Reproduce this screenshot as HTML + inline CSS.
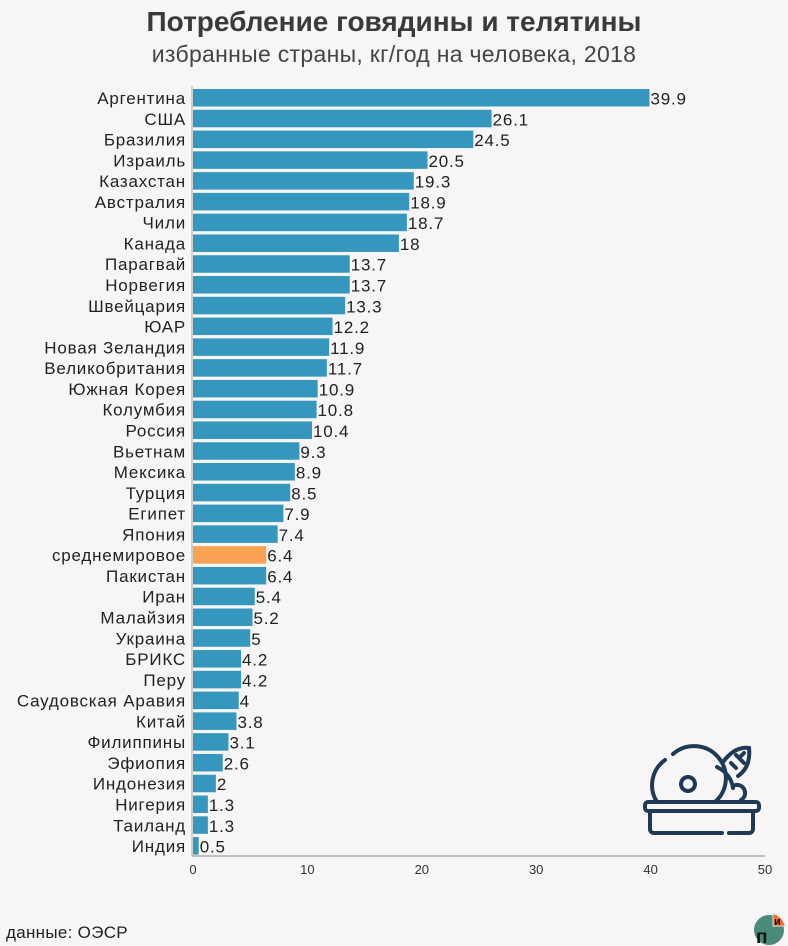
<!DOCTYPE html>
<html><head><meta charset="utf-8"><style>
body{margin:0;background:#f7f5f6;font-family:"Liberation Sans",sans-serif;}
#wrap{position:relative;width:788px;height:946px;overflow:hidden;background:#f7f5f6;}
.t{position:absolute;left:0;width:788px;text-align:center;color:#333;}
</style></head><body>
<div id="wrap">
<div class="t" style="top:6px;font-size:28px;font-weight:bold;color:#3a3a3a;">Потребление говядины и телятины</div>
<div class="t" style="top:41px;font-size:23px;letter-spacing:0.3px;color:#444;">избранные страны, кг/год на человека, 2018</div>
<svg id="c" width="788" height="946" style="position:absolute;left:0;top:0"></svg>
<div style="position:absolute;left:6px;top:923px;font-size:17px;letter-spacing:0.3px;color:#222;">данные: ОЭСР</div>
</div>
<script>
const categories=["Аргентина","США","Бразилия","Израиль","Казахстан","Австралия","Чили","Канада","Парагвай","Норвегия","Швейцария","ЮАР","Новая Зеландия","Великобритания","Южная Корея","Колумбия","Россия","Вьетнам","Мексика","Турция","Египет","Япония","среднемировое","Пакистан","Иран","Малайзия","Украина","БРИКС","Перу","Саудовская Аравия","Китай","Филиппины","Эфиопия","Индонезия","Нигерия","Таиланд","Индия"];
const values=[39.9,26.1,24.5,20.5,19.3,18.9,18.7,18,13.7,13.7,13.3,12.2,11.9,11.7,10.9,10.8,10.4,9.3,8.9,8.5,7.9,7.4,6.4,6.4,5.4,5.2,5,4.2,4.2,4,3.8,3.1,2.6,2,1.3,1.3,0.5];
const labels=["39.9","26.1","24.5","20.5","19.3","18.9","18.7","18","13.7","13.7","13.3","12.2","11.9","11.7","10.9","10.8","10.4","9.3","8.9","8.5","7.9","7.4","6.4","6.4","5.4","5.2","5","4.2","4.2","4","3.8","3.1","2.6","2","1.3","1.3","0.5"];
const ticks=[0,10,20,30,40,50];
const NS="http://www.w3.org/2000/svg";
const svg=document.getElementById('c');
const x=v=>193+v*11.44;
const y=i=>89+i*20.78;
function mk(t,a){const e=document.createElementNS(NS,t);for(const k in a)e.setAttribute(k,a[k]);svg.appendChild(e);return e;}
categories.forEach((c,i)=>{
 const r=mk('rect',{x:x(0),y:y(i),width:x(values[i])-x(0),height:17.5,fill:c==="среднемировое"?"#f9a352":"#3597bd"});
 
 
 const l=mk('text',{x:186,y:y(i)+15,'text-anchor':'end','font-size':17,'letter-spacing':0.8,fill:'#222'});l.textContent=c;
 
 
 const v=mk('text',{x:x(values[i])+1,y:y(i)+15.5,'font-size':17,'letter-spacing':0.8,fill:'#222'});v.textContent=labels[i];
 
 
});
const ax=mk('line',{x1:192,y1:86,x2:192,y2:856,stroke:'#aaa','stroke-width':1});


const bx=mk('line',{x1:192,y1:856,x2:765,y2:856,stroke:'#888','stroke-width':1});


ticks.forEach(t=>{const e=mk('text',{x:x(t),y:874,'text-anchor':'middle','font-size':13,fill:'#333'});e.textContent=t;
 
 });
</script>
<svg style="position:absolute;left:643px;top:742px" width="120" height="95" viewBox="0 0 120 95" fill="none" stroke="#1e3a56" stroke-width="4" stroke-linecap="round">
<path d="M14 60 A31 31 0 0 1 22 18"/><path d="M30 12 A31 31 0 0 1 72 60"/><circle cx="45" cy="42" r="7"/>
<path d="M80 20 Q92 4 106 6 Q108 25 95 34"/><path d="M96 16 l5 -5 M93 13 l8 8 M88 21 l5 5"/>
<path d="M74 25 Q88 32 90 46"/>
<path d="M90 44 A8 8 0 1 1 98 58"/>
<rect x="2" y="60" width="114" height="9" rx="3"/><path d="M7 69 v18 a4 4 0 0 0 4 4 h68 M86 91 h20 a4 4 0 0 0 4 -4 v-18"/>
</svg>
<svg style="position:absolute;left:751px;top:911px" width="36" height="35">
<circle cx="18" cy="19" r="15" fill="#4a8a7a"/><path d="M22 3 A15 15 0 0 1 34 15 L22 15 Z" fill="#f26a2a" stroke="#ddd" stroke-width="1"/>
<text x="5" y="32" font-size="19" font-weight="bold" fill="#111" font-family="Liberation Sans">п</text><text x="23" y="14" font-size="11" font-weight="bold" fill="#111">и</text>
</svg>
</body></html>
